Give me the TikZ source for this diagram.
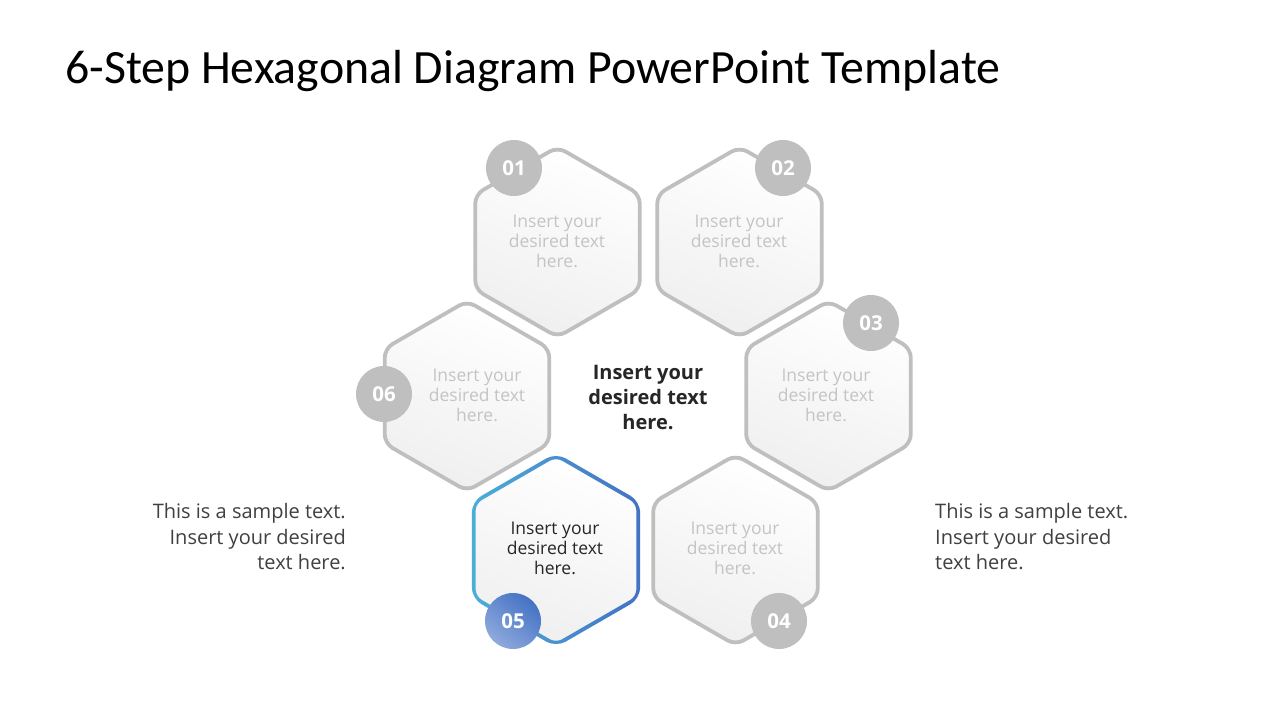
\documentclass[tikz,border=0pt]{standalone}
\usepackage{fontspec}
\setmainfont{Open Sans}
\newfontfamily\titlefont{Carlito}
\usetikzlibrary{calc}
\definecolor{hexgray}{HTML}{BFBFBF}
\definecolor{hextext}{HTML}{C4C4C4}
\definecolor{bodytext}{HTML}{404040}
\definecolor{darktext}{HTML}{262626}
\definecolor{bluea}{HTML}{4BAED8}
\definecolor{blueb}{HTML}{4472C4}
\definecolor{bluec}{HTML}{8FAADC}
\definecolor{hexfill}{HTML}{EFEFEF}
\tikzset{
  hexline/.style={draw=hexgray, line width=3.8pt, rounded corners=9pt, top color=white, bottom color=hexfill, shading angle=-20},
  numcirc/.style={circle, fill=hexgray, minimum size=56pt, inner sep=0pt, text=white, font=\fontsize{20.5}{24}\selectfont\bfseries},
  hextxt/.style={align=center, text=hextext, font=\fontsize{17.5}{20}\selectfont},
  sidetxt/.style={text=bodytext, font=\fontsize{20}{25.5}\selectfont, inner sep=0pt}
}
\newcommand{\hexat}[2]{($(#1)+(0,#2)$) -- ++(210:#2) -- ++(270:#2) -- ++(330:#2) -- ++(30:#2) -- ++(90:#2) -- cycle}
\begin{document}
\begin{tikzpicture}[x=1pt,y=1pt]
\useasboundingbox[fill=white] (0,0) rectangle (1280,-720);
% title
\node[anchor=base west, inner sep=0pt, font=\titlefont\fontsize{47.8}{56}\selectfont, text=black] (title) at (65,-83) {6-Step Hexagonal Diagram PowerPoint Template};
% centers
\coordinate (p1) at (557.5,-242);
\coordinate (p2) at (739.5,-242);
\coordinate (p3) at (828.5,-396);
\coordinate (p4) at (735.5,-550);
\coordinate (p5) at (556,-550);
\coordinate (p6) at (467,-396);
% gray hexagons
\foreach \i in {1,2,3,4,6}{
  \path[hexline] \hexat{p\i}{95};
}
% hexagon 05 fill
\path[top color=white, bottom color=hexfill, shading angle=-20, rounded corners=9pt] \hexat{p5}{95};
% hexagon 05 gradient stroke (ring)
\shade[left color=bluea, right color=blueb, even odd rule]
  [rounded corners=11pt] \hexat{p5}{97.2}
  [rounded corners=7pt] \hexat{p5}{92.8};
% hex texts
\node[hextxt] (t1) at (557,-241) {Insert your\\desired text\\here.};
\node[hextxt] (t2) at (739,-241) {Insert your\\desired text\\here.};
\node[hextxt] (t3) at (826,-395) {Insert your\\desired text\\here.};
\node[hextxt] (t4) at (735,-548) {Insert your\\desired text\\here.};
\node[hextxt, text=darktext] (t5) at (555,-548) {Insert your\\desired text\\here.};
\node[hextxt] (t6) at (477,-395) {Insert your\\desired text\\here.};
% circles
\node[numcirc] (c1) at (514,-168) {01};
\node[numcirc] (c2) at (783,-168) {02};
\node[numcirc] (c3) at (871,-323) {03};
\node[numcirc] (c4) at (779,-621) {04};
\node[numcirc] (c6) at (384,-394) {06};
\shade[top color=blueb, bottom color=bluec, shading angle=-40] (513,-621) circle (28);
\node[numcirc, fill=none] (c5) at (513,-621) {05};
% center text
\node[align=center, text=darktext, font=\fontsize{20}{25}\selectfont\bfseries] (ctr) at (648,-397) {Insert your\\desired text\\here.};
% side texts
\node[sidetxt, align=right, anchor=east] (left) at (346,-537) {This is a sample text.\\Insert your desired\\text here.};
\node[sidetxt, align=left, anchor=west] (right) at (935,-537) {This is a sample text.\\Insert your desired\\text here.};
\end{tikzpicture}
\end{document}
